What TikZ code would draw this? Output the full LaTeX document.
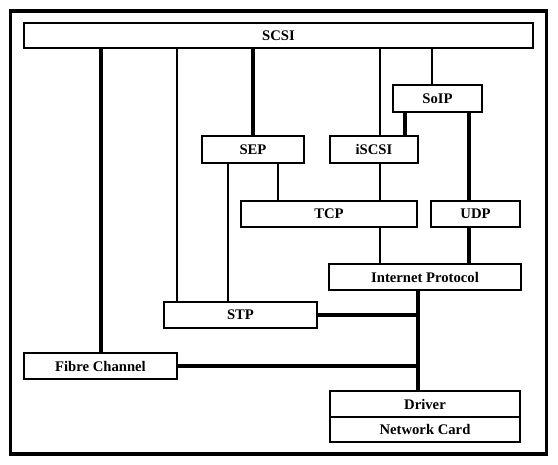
\documentclass[tikz,border=0pt]{standalone}
\usepackage{fontspec}
\setmainfont{Liberation Serif}
\begin{document}
\begin{tikzpicture}[x=0.75pt,y=-0.75pt,
  box/.style={draw, line width=2.2pt, inner sep=0pt, font=\fontsize{11}{13}\selectfont\bfseries, fill=white},
  thickln/.style={line width=2.4pt},
  thinln/.style={line width=1.3pt}]
\useasboundingbox[fill=white] (0,0) rectangle (558,465);
\draw[line width=2.5pt] (10.7,11) rectangle (546.5,454);
% boxes
\node[box, minimum width=509*0.75pt, minimum height=25*0.75pt] (SCSI) at (278.5,35.5) {SCSI};
\node[box, minimum width=89*0.75pt, minimum height=27*0.75pt] (SoIP) at (437.5,98.5) {SoIP};
\node[box, minimum width=102*0.75pt, minimum height=27*0.75pt] (SEP) at (253,149.5) {SEP};
\node[box, minimum width=88*0.75pt, minimum height=27*0.75pt] (iSCSI) at (374,149.5) {iSCSI};
\node[box, minimum width=176*0.75pt, minimum height=26*0.75pt] (TCP) at (329,214) {TCP};
\node[box, minimum width=89*0.75pt, minimum height=26*0.75pt] (UDP) at (475.5,214) {UDP};
\node[box, minimum width=192*0.75pt, minimum height=26*0.75pt] (IP) at (425,277) {Internet Protocol};
\node[box, minimum width=153*0.75pt, minimum height=26*0.75pt] (STP) at (240.5,315) {STP};
\node[box, minimum width=153*0.75pt, minimum height=26*0.75pt] (FC) at (100.5,366) {Fibre Channel};
\node[box, minimum width=190*0.75pt, minimum height=26*0.75pt] (Drv) at (425,404) {Driver};
\node[box, minimum width=190*0.75pt, minimum height=25*0.75pt] (NC) at (425,429.5) {Network Card};
% connectors
\draw[thickln] (SCSI.south -| 101,0) -- (FC.north -| 101,0);
\draw[thinln] (SCSI.south -| 177,0) -- (STP.north -| 177,0);
\draw[thickln] (SCSI.south -| SEP.north) -- (SEP.north);
\draw[thinln] (SCSI.south -| 380,0) -- (iSCSI.north -| 380,0);
\draw[thinln] (SCSI.south -| 432,0) -- (SoIP.north -| 432,0);
\draw[thickln] (SoIP.south -| 405,0) -- (iSCSI.north -| 405,0);
\draw[thickln] (SoIP.south -| 469,0) -- (UDP.north -| 469,0);
\draw[thinln] (SEP.south -| 228,0) -- (STP.north -| 228,0);
\draw[thinln] (SEP.south -| 278,0) -- (TCP.north -| 278,0);
\draw[thinln] (iSCSI.south -| 380,0) -- (TCP.north -| 380,0);
\draw[thinln] (TCP.south -| 380,0) -- (IP.north -| 380,0);
\draw[thickln] (UDP.south -| 469,0) -- (IP.north -| 469,0);
\coordinate (ipd) at (IP.south -| 418,0);
\draw[thickln] (ipd) -- (Drv.north -| ipd);
\draw[thickln] (STP.east) -- (STP.east -| ipd);
\draw[thickln] (FC.east) -- (FC.east -| ipd);
\end{tikzpicture}
\end{document}
